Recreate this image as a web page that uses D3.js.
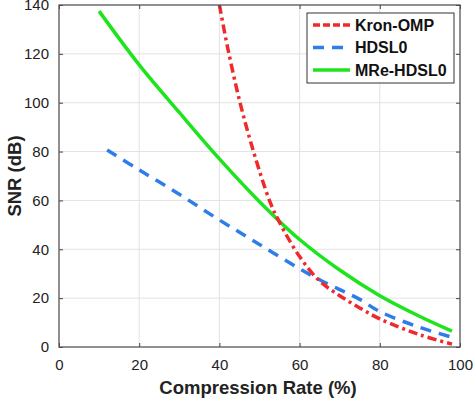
<!DOCTYPE html>
<html><head><meta charset="utf-8">
<script src="https://cdn.jsdelivr.net/npm/d3@7"></script>
<style>body{margin:0;background:#fff}svg{display:block}</style>
</head><body>
<script>
const xTicks = [0,20,40,60,80,100];
const yTicks = [0,20,40,60,80,100,120,140];
const seriesNames = ["Kron-OMP","HDSL0","MRe-HDSL0"];
const kronX = [40,42,45,48.4,52.6,55,60,65,70,75,80,90,98];
const kronY = [140,123,101,80.6,59.5,51,37,27,21,16,11.5,5,1.2];
const hdslX = [12,20,30,40,50,60,65,70,75,80,90,98];
const hdslY = [80.6,72.5,62.5,52,42,32,27.5,23.5,19.5,14.5,8,4];
const mreX = [10,20,30,40,50,60,70,80,90,98];
const mreY = [137.5,115.5,96,77,59.5,44,31.5,21,12.5,6.5];
const colors = ["#ee2a2a","#2f7de8","#1ee41e"];
const dashes = ["9,4,3,4","11,8",null];

const W=474,H=402, L=59,R=460,T=5,B=347;
const FONT="Liberation Sans, Arial, sans-serif";
const svg=d3.select("body").append("svg").attr("width",W).attr("height",H);
const x=d3.scaleLinear().domain([0,100]).range([L,R]);
const y=d3.scaleLinear().domain([0,140]).range([B,T]);

// grid
svg.append("g").selectAll("line").data(xTicks.slice(1,-1)).join("line")
 .attr("x1",d=>x(d)).attr("x2",d=>x(d)).attr("y1",T).attr("y2",B)
 .attr("stroke","#e2e2e2").attr("stroke-width",1);
svg.append("g").selectAll("line").data(yTicks.slice(1,-1)).join("line")
 .attr("y1",d=>y(d)).attr("y2",d=>y(d)).attr("x1",L).attr("x2",R)
 .attr("stroke","#e2e2e2").attr("stroke-width",1);

svg.append("clipPath").attr("id","c").append("rect").attr("x",L).attr("y",T).attr("width",R-L).attr("height",B-T);

const line=d3.line().x(d=>x(d[0])).y(d=>y(d[1])).curve(d3.curveCatmullRom.alpha(0.5));
const data=[d3.zip(kronX,kronY),d3.zip(hdslX,hdslY),d3.zip(mreX,mreY)];
const plotG=svg.append("g").attr("clip-path","url(#c)");
[2,1,0].forEach(i=>{
  plotG.append("path").datum(data[i]).attr("d",line).attr("fill","none")
   .attr("stroke",colors[i]).attr("stroke-width",3.5)
   .attr("stroke-dasharray",dashes[i]);
});

// axes
const tickStyle=g=>{g.select(".domain").remove();g.selectAll("line").attr("stroke","#444");
 g.selectAll("text").attr("font-family",FONT).attr("font-size",15).attr("fill","#222");};
svg.append("g").attr("transform",`translate(0,${B})`)
 .call(d3.axisBottom(x).tickValues(xTicks).tickSize(-4).tickPadding(12)).call(tickStyle);
svg.append("g").attr("transform",`translate(${L},0)`)
 .call(d3.axisLeft(y).tickValues(yTicks).tickSize(-4).tickPadding(10)).call(tickStyle);
svg.append("g").attr("transform",`translate(0,${T})`)
 .call(d3.axisTop(x).tickValues(xTicks).tickSize(-4).tickFormat("")).call(tickStyle);
svg.append("g").attr("transform",`translate(${R},0)`)
 .call(d3.axisRight(y).tickValues(yTicks).tickSize(-4).tickFormat("")).call(tickStyle);
svg.append("rect").attr("x",L).attr("y",T).attr("width",R-L).attr("height",B-T)
 .attr("fill","none").attr("stroke","#555").attr("stroke-width",1.3);

// labels
svg.append("text").attr("x",258).attr("y",394).attr("text-anchor","middle")
 .attr("font-family",FONT).attr("font-weight","bold").attr("font-size",18.5).attr("fill","#222")
 .text("Compression Rate (%)");
svg.append("text").attr("transform",`translate(21,${(T+B)/2}) rotate(-90)`).attr("text-anchor","middle")
 .attr("font-family",FONT).attr("font-weight","bold").attr("font-size",18.5).attr("fill","#222")
 .text("SNR (dB)");

// legend
const lg=svg.append("g");
lg.append("rect").attr("x",307).attr("y",13).attr("width",147).attr("height",70)
 .attr("fill","#fff").attr("stroke","#333").attr("stroke-width",1);
seriesNames.forEach((n,i)=>{
  const yy=25+i*22.5;
  lg.append("line").attr("x1",313).attr("x2",350).attr("y1",yy).attr("y2",yy)
   .attr("stroke",colors[i]).attr("stroke-width",3.5).attr("stroke-dasharray",i==0?"7,3":dashes[i]);
  lg.append("text").attr("x",355).attr("y",yy+5.5).text(n)
   .attr("font-family",FONT).attr("font-weight","bold").attr("font-size",16).attr("fill","#111");
});
</script>
</body></html>
